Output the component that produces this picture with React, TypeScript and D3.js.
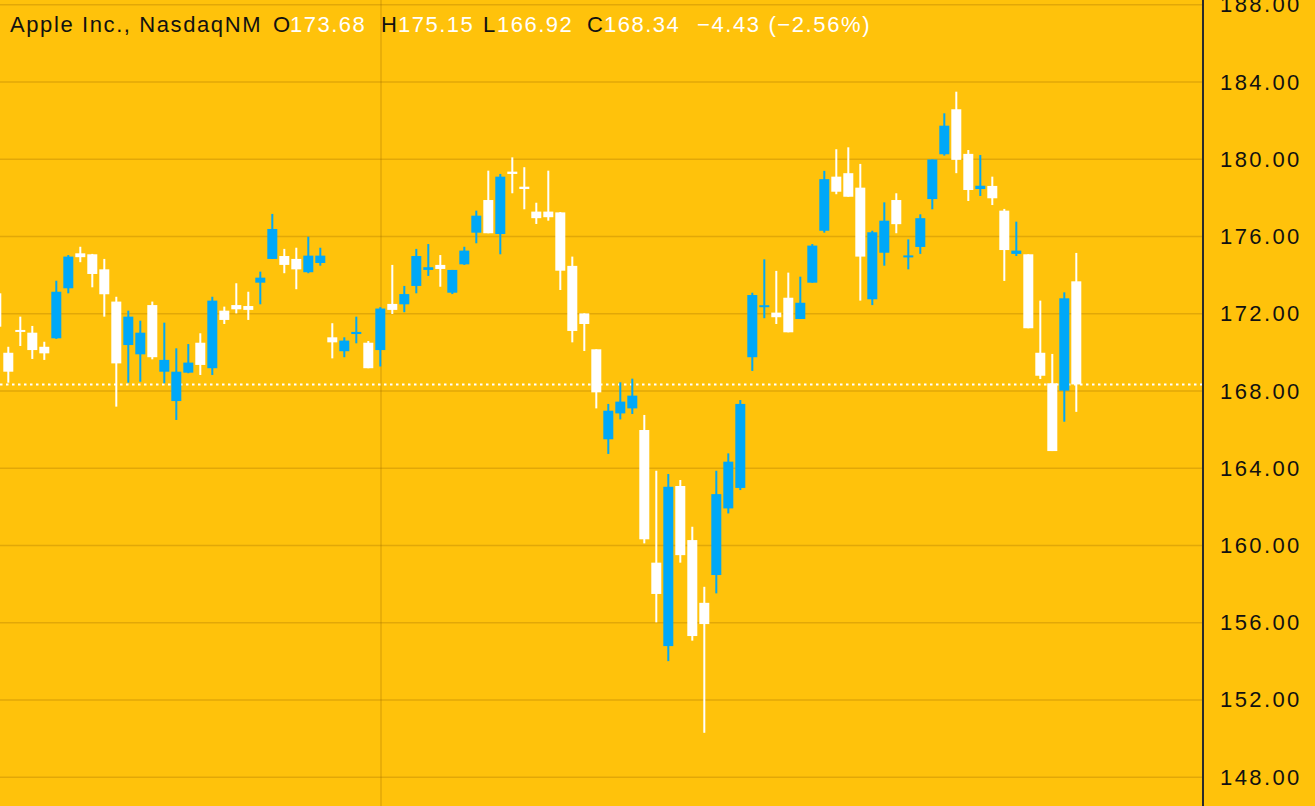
import React from "react";
import * as d3 from "d3";

// Candle index (-1 is the partially visible candle at the left edge)
const candleIndex = d3.range(-1, 90);

const opens = [
  173.06, 169.98, 171.16, 171.02, 170.29, 170.73, 173.32, 175.13, 175.08, 174.30,
  172.63, 170.38, 169.90, 172.45, 169.00, 167.48, 168.95, 170.50, 169.18, 172.16,
  172.45, 172.40, 173.61, 174.84, 174.99, 174.84, 174.15, 174.63, 170.78, 170.06,
  170.95, 170.50, 170.12, 172.51, 172.49, 173.44, 174.27, 174.53, 173.09, 174.56,
  176.20, 177.89, 176.13, 179.36, 178.58, 177.29, 177.29, 177.25, 174.48, 172.02,
  170.16, 165.50, 166.84, 167.10, 165.98, 159.11, 154.79, 163.08, 160.28, 157.03,
  158.47, 161.92, 162.98, 169.75, 172.34, 172.06, 172.83, 171.73, 173.61, 176.30,
  179.10, 179.28, 178.53, 172.75, 175.16, 177.89, 174.93, 175.46, 177.94, 180.26,
  182.59, 180.28, 178.46, 178.62, 177.34, 175.10, 175.08, 169.98, 168.40, 168.02,
  173.68,
];
const highs = [
  173.23, 170.29, 171.85, 171.37, 170.55, 173.71, 175.04, 175.47, 175.10, 174.84,
  172.88, 172.16, 171.64, 172.63, 171.54, 170.21, 170.43, 170.99, 172.88, 172.37,
  173.58, 173.14, 174.18, 177.17, 175.36, 175.42, 175.99, 175.42, 171.51, 170.78,
  171.85, 170.59, 172.34, 174.53, 173.44, 175.36, 175.61, 175.04, 174.27, 175.47,
  177.34, 179.41, 179.24, 180.10, 179.59, 177.75, 179.41, 177.27, 174.96, 172.02,
  170.16, 167.33, 168.45, 168.64, 166.76, 163.87, 163.70, 163.39, 160.97, 157.86,
  163.87, 164.77, 167.53, 173.09, 174.82, 174.22, 174.13, 173.92, 175.61, 179.40,
  180.52, 180.62, 179.76, 176.30, 177.77, 178.24, 175.85, 177.15, 179.99, 182.38,
  183.50, 180.48, 180.22, 179.10, 177.43, 176.77, 175.08, 172.68, 169.92, 173.11,
  175.15,
];
const lows = [
  171.16, 168.43, 170.33, 169.66, 169.61, 170.70, 173.06, 174.67, 173.37, 171.85,
  167.19, 168.43, 168.48, 169.64, 168.40, 166.50, 168.92, 168.83, 168.83, 171.47,
  172.02, 171.68, 172.49, 174.84, 174.10, 173.27, 174.10, 174.49, 169.69, 169.75,
  170.47, 169.18, 169.27, 171.99, 172.08, 173.06, 173.96, 173.40, 173.02, 174.53,
  175.65, 176.17, 175.08, 178.24, 177.41, 176.65, 176.82, 173.23, 170.52, 170.07,
  167.10, 164.74, 166.53, 166.81, 160.11, 156.02, 154.01, 159.11, 155.07, 150.30,
  157.52, 161.66, 162.87, 169.04, 171.77, 171.47, 171.04, 171.73, 173.61, 176.20,
  178.19, 178.06, 172.68, 172.45, 174.49, 176.17, 174.30, 175.10, 177.41, 180.19,
  179.28, 177.84, 178.10, 177.63, 173.70, 174.99, 171.25, 168.62, 164.89, 166.41,
  166.92,
];
const closes = [
  171.33, 169.00, 171.06, 170.12, 169.95, 173.14, 174.96, 174.93, 174.06, 173.01,
  169.43, 171.85, 171.02, 169.75, 169.61, 169.00, 169.47, 169.35, 172.68, 171.68,
  172.23, 172.20, 173.87, 176.39, 174.53, 174.30, 175.01, 175.01, 170.52, 170.61,
  171.06, 169.18, 172.27, 172.20, 173.02, 174.99, 174.41, 174.32, 174.27, 175.27,
  177.08, 176.17, 179.10, 179.24, 178.46, 176.95, 177.00, 174.23, 171.11, 171.47,
  167.93, 166.98, 167.45, 167.76, 160.32, 157.49, 163.04, 159.50, 155.31, 155.93,
  162.66, 164.34, 167.33, 172.97, 172.44, 171.82, 171.04, 172.57, 175.53, 178.97,
  178.32, 178.06, 174.96, 176.22, 176.82, 176.64, 175.01, 176.95, 179.99, 181.74,
  179.97, 178.41, 178.63, 177.98, 175.30, 175.27, 171.25, 168.79, 164.89, 172.80,
  168.34,
];

const yTicks = [148, 152, 156, 160, 164, 168, 172, 176, 180, 184, 188];
const separatorIndex = 31;

const titleName = "Apple Inc., NasdaqNM";
const ohlcLabels = ["O", "H", "L", "C"];
const ohlcValues = ["173.68", "175.15", "166.92", "168.34"];
const changeText = "\u22124.43 (\u22122.56%)";
const lastClose = 168.34;

const W = 1315;
const H = 806;
const AXIS_X = 1203;
const BG = "#FFC20B";
const UP = "#00A8F8";
const DOWN = "#FFFFFF";
const GRID = "rgba(150,100,0,0.28)";

export default function App() {
  const x = d3.scaleLinear().domain([-1, 89]).range([-3.7, 1076.3]);
  const y = d3.scaleLinear().domain([148, 188]).range([777.2, 4.8]);
  const bodyW = 10;
  const font = "'Liberation Sans', Arial, Helvetica, sans-serif";

  const labelX = [273, 381, 483, 587];
  const valueX = [290, 398, 497, 604];
  const titleY = 32;

  return (
    <svg
      width={W}
      height={H}
      style={{ position: "absolute", left: 0, top: 0, display: "block" }}
    >
      <defs>
        <clipPath id="plot">
          <rect x={0} y={0} width={AXIS_X} height={H} />
        </clipPath>
      </defs>
      <rect x={0} y={0} width={W} height={H} fill={BG} />
      {/* grid */}
      {yTicks.map((t) => (
        <line
          key={"g" + t}
          x1={0}
          x2={AXIS_X}
          y1={y(t)}
          y2={y(t)}
          stroke={GRID}
          strokeWidth={1.5}
        />
      ))}
      <line
        x1={x(separatorIndex) + 0.7}
        x2={x(separatorIndex) + 0.7}
        y1={0}
        y2={H}
        stroke={GRID}
        strokeWidth={1.5}
      />
      {/* last price dotted line */}
      <line
        x1={0}
        x2={AXIS_X}
        y1={y(lastClose)}
        y2={y(lastClose)}
        stroke="#FFFFFF"
        strokeWidth={2}
        strokeDasharray="2.5 3.5"
      />
      {/* candles */}
      <g clipPath="url(#plot)">
        {candleIndex.map((idx, k) => {
          const o = opens[k];
          const c = closes[k];
          const hi = highs[k];
          const lo = lows[k];
          const up = c > o;
          const col = up ? UP : DOWN;
          const cx = x(idx);
          const top = y(Math.max(o, c));
          const bot = y(Math.min(o, c));
          const bh = Math.max(2, bot - top);
          return (
            <g key={idx}>
              <rect x={cx - 1} y={y(hi)} width={2} height={Math.max(1, y(lo) - y(hi))} fill={col} />
              <rect x={cx - bodyW / 2} y={bh === 2 ? (top + bot) / 2 - 1 : top} width={bodyW} height={bh} fill={col} />
            </g>
          );
        })}
      </g>
      {/* axis line */}
      <line x1={AXIS_X} x2={AXIS_X} y1={0} y2={H} stroke="#2a2a2a" strokeWidth={2} />
      {/* y labels */}
      {yTicks.map((t) => (
        <text
          key={"t" + t}
          x={1220}
          y={y(t)}
          dominantBaseline="central"
          fontFamily={font}
          fontSize={22}
          letterSpacing={2.4}
          fill="#111"
        >
          {t.toFixed(2)}
        </text>
      ))}
      {/* title */}
      <g fontFamily={font} fontSize={22}>
        <text x={10} y={titleY} letterSpacing={1.6} fill="#111">
          {titleName}
        </text>
        {ohlcLabels.map((l, i) => (
          <React.Fragment key={l}>
            <text x={labelX[i]} y={titleY} fill="#111">
              {l}
            </text>
            <text x={valueX[i]} y={titleY} letterSpacing={1.5} fill="#FFFFFF">
              {ohlcValues[i]}
            </text>
          </React.Fragment>
        ))}
        <text x={697} y={titleY} letterSpacing={1.6} fill="#FFFFFF">
          {changeText}
        </text>
      </g>
    </svg>
  );
}
